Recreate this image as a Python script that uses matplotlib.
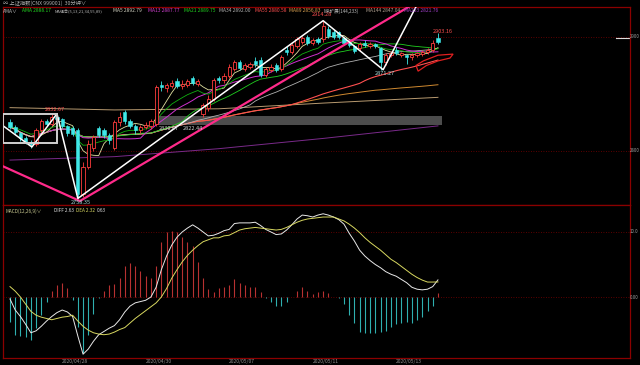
import numpy as np
import pandas as pd
import matplotlib
matplotlib.use("Agg")
import matplotlib.pyplot as plt
from matplotlib.patches import Rectangle, Polygon

plt.rcParams['font.family'] = ['Noto Sans CJK SC', 'DejaVu Sans']

# 上证指数 30分钟K线
opens = [2825, 2821, 2816, 2811, 2808, 2806, 2818, 2826, 2824, 2830,
         2828, 2822, 2820, 2818, 2762, 2786, 2803, 2820, 2818, 2814,
         2803, 2825, 2834, 2826, 2822, 2818, 2821, 2822, 2824, 2858,
         2855, 2857, 2861, 2857, 2858, 2864, 2859, 2832, 2838, 2846,
         2864, 2862, 2866, 2872, 2878, 2872, 2874, 2879, 2880, 2867,
         2871, 2875, 2872, 2889, 2887, 2892, 2896, 2900, 2895, 2898,
         2898, 2907, 2904, 2904, 2899, 2896, 2892, 2890, 2895, 2892,
         2894, 2890, 2878, 2884, 2889, 2884, 2884, 2882, 2884, 2885,
         2887, 2889, 2899]
highs = [2828, 2823, 2817, 2813, 2810, 2820, 2828, 2828, 2832, 2832.67,
         2829, 2823, 2822, 2820, 2790, 2810, 2814, 2822, 2820, 2816,
         2827, 2834, 2836, 2828, 2824, 2823, 2825, 2828, 2858, 2861,
         2860, 2862, 2864, 2862, 2863, 2866, 2863, 2842, 2849, 2864,
         2866, 2868, 2876, 2880, 2880, 2877, 2878, 2882, 2882, 2874,
         2876, 2877, 2884, 2892, 2895, 2900, 2901, 2902, 2899, 2900,
         2914.28, 2910, 2906, 2905, 2900, 2897, 2893, 2896, 2897, 2896,
         2895, 2891, 2886, 2888, 2891, 2887, 2885, 2886, 2887, 2889,
         2890, 2897, 2903.16]
lows = [2819, 2815, 2809, 2806, 2803, 2804, 2816, 2822, 2822, 2826,
        2820, 2813, 2813, 2758.35, 2760, 2784, 2800, 2812, 2811, 2806,
        2801, 2822, 2824, 2820, 2815, 2816, 2819, 2819, 2822, 2853,
        2852, 2855, 2855, 2854, 2856, 2858, 2857, 2830, 2835, 2844,
        2860, 2860, 2864, 2870, 2871, 2870, 2872, 2874, 2865, 2865,
        2869, 2869, 2870, 2884, 2885, 2890, 2894, 2893, 2893, 2894,
        2896, 2899, 2898, 2898, 2893, 2891, 2886, 2888, 2891, 2890,
        2890, 2871.27, 2875, 2882, 2884, 2882, 2876, 2880, 2882, 2883,
        2885, 2887, 2894]
closes = [2821, 2817, 2811, 2808, 2806, 2818, 2826, 2824, 2830, 2828,
          2822, 2816, 2815, 2762, 2786, 2806, 2812, 2814, 2814, 2810,
          2825, 2830, 2826, 2822, 2818, 2821, 2823, 2826, 2856, 2856,
          2858, 2860, 2857, 2859, 2861, 2860, 2861, 2840, 2846, 2862,
          2862, 2866, 2874, 2878, 2873, 2875, 2876, 2876, 2867, 2872,
          2874, 2871, 2882, 2887, 2893, 2898, 2899, 2895, 2897, 2896,
          2910, 2901, 2900, 2900, 2895, 2893, 2888, 2894, 2893, 2894,
          2892, 2878, 2884, 2886, 2886, 2886, 2882, 2884, 2886, 2887,
          2889, 2895, 2896]

# MACD(12,26,9)
dif = [-0.3, -2.0, -3.0, -4.2, -5.5, -5.2, -4.5, -3.7, -3.0, -2.4,
       -2.0, -2.3, -3.0, -6.0, -8.8, -8.0, -6.8, -5.8, -5.3, -4.8,
       -4.4, -3.5, -2.3, -1.4, -0.9, -0.7, -0.5, 0.0, 1.5, 4.2,
       6.3, 8.0, 9.2, 10.0, 10.6, 11.1, 10.6, 10.0, 9.4, 9.5,
       9.8, 10.2, 10.4, 11.3, 11.4, 11.4, 11.4, 11.5, 11.0, 10.4,
       10.0, 9.6, 9.7, 10.3, 11.1, 12.0, 12.6, 12.5, 12.3, 12.6,
       12.8, 12.6, 12.3, 11.9, 11.2, 9.8, 8.6, 7.2, 6.3, 5.6,
       5.0, 4.5, 3.9, 3.5, 3.2, 2.7, 2.2, 1.5, 1.2, 1.1,
       1.2, 1.6, 2.63]
dea = [1.6, 0.9, 0.0, -1.1, -2.2, -2.8, -3.1, -3.3, -3.5, -3.3,
       -3.1, -3.0, -2.8, -3.7, -4.5, -5.1, -5.5, -5.7, -5.8, -5.7,
       -5.4, -5.0, -4.7, -4.0, -3.3, -2.7, -2.1, -1.5, -0.9, 0.0,
       1.3, 2.9, 4.2, 5.4, 6.4, 7.2, 7.9, 8.5, 8.8, 9.1,
       9.1, 9.4, 9.5, 9.9, 10.3, 10.5, 10.6, 10.7, 10.6, 10.5,
       10.4, 10.3, 10.4, 10.7, 11.1, 11.5, 11.8, 12.0, 12.1, 12.2,
       12.3, 12.3, 12.3, 12.0, 11.7, 11.2, 10.6, 9.9, 9.1, 8.4,
       7.8, 7.2, 6.5, 5.8, 5.3, 4.7, 4.1, 3.5, 3.0, 2.6,
       2.3, 2.3, 2.32]

date_labels = ['2020/04/28', '2020/04/30', '2020/05/07', '2020/05/11', '2020/05/13']
date_pos = [12.5, 28.5, 44.5, 60.5, 76.5]

# 长周期均线
ma144_idx = [0, 20, 40, 60, 82]
ma144_val = [2838, 2836, 2837, 2842, 2847.04]
ma233_idx = [0, 20, 40, 60, 82]
ma233_val = [2792, 2795, 2802, 2811, 2822]

# 画线工具
zigzag_idx = [-1.3, 4.2, 9, 13, 60, 71.5, 78.2]
zigzag_val = [2822, 2803.5, 2832.67, 2758.35, 2914.28, 2871.27, 2930]
trend_idx = [-1.9, 13.4, 76.6]
trend_val = [2787.7, 2756.1, 2927]
box_idx = [-1.3, 9]
box_val = [2807, 2832.67]
band_idx = [27.8, 82.8]
band_val = [2822.44, 2830.67]
cloud_idx = [77.8, 79.2, 82.0, 84.9, 84.3, 82.0, 79.8, 78.2]
cloud_val = [2875, 2879, 2884, 2885, 2881.5, 2879, 2875, 2870]

RED = '#ff3c3c'
CYAN = '#3fe8e8'
GRID = '#7a0000'

n = len(closes)
x = np.arange(n)
c = pd.Series(closes, dtype=float)
ma5 = c.rolling(5, min_periods=1).mean()
ma13 = c.rolling(13, min_periods=1).mean()
ma21 = c.rolling(21, min_periods=1).mean()
ma34 = c.rolling(34, min_periods=1).mean()
ma55 = c.rolling(55, min_periods=1).mean()
ma89 = c.rolling(89, min_periods=1).mean()
ama = c.ewm(span=10, adjust=False).mean()

fig = plt.figure(figsize=(6.4, 3.65), dpi=100, facecolor='black')
ax = fig.add_axes([3/640, 1-205/365, 627/640, 198/365], facecolor='black')
ax2 = fig.add_axes([3/640, 1-358/365, 627/640, 153/365], facecolor='black')

xl = (-1.34, 118.8)
for a in (ax, ax2):
    a.set_xlim(*xl)
    a.set_xticks([])
    a.set_yticks([])
    for s in a.spines.values():
        s.set_color('#8b0000')
        s.set_linewidth(0.9)
ax.set_ylim(2752.6, 2926.3)
ax2.set_ylim(-9.38, 14.15)

# 网格
for v in (2900, 2800):
    ax.axhline(v, color=GRID, lw=0.6, ls=(0, (1, 2)), zorder=0)
for v in (10, 0):
    ax2.axhline(v, color=GRID, lw=0.6, ls=(0, (1, 2)), zorder=0)

# 区间带
ax.add_patch(Rectangle((band_idx[0], band_val[0]), band_idx[1]-band_idx[0], band_val[1]-band_val[0],
                       facecolor='#5a5a5a', edgecolor='none', alpha=0.85, zorder=1))

# 均线
ax.plot(ma144_idx, ma144_val, color='#b89a70', lw=0.7, zorder=2)
ax.plot(ma233_idx, ma233_val, color='#7a2a8a', lw=0.7, zorder=2)
ax.plot(x, ma89, color='#d08a30', lw=0.7, zorder=2)
ax.plot(x, ma55, color='#ff5050', lw=0.8, zorder=2)
ax.plot(x, ma34, color='#b0b0b0', lw=0.6, zorder=2)
ax.plot(x, ma21, color='#20d020', lw=0.6, zorder=2)
ax.plot(x, ma13, color='#d030d0', lw=0.7, zorder=2)
ax.plot(x, ma5, color='#e0e0a0', lw=0.6, zorder=2)
ax.plot(x, ama, color='#10b010', lw=0.6, zorder=2)

# K线
w = 0.62
for i in range(n):
    o, h, l, cl = opens[i], highs[i], lows[i], closes[i]
    if cl >= o:
        ax.vlines(i, l, h, color=RED, lw=0.6, zorder=3)
        ax.add_patch(Rectangle((i - w/2, o), w, max(cl - o, 0.3), facecolor='black',
                               edgecolor=RED, lw=0.6, zorder=4))
    else:
        ax.vlines(i, l, h, color=CYAN, lw=0.6, zorder=3)
        ax.add_patch(Rectangle((i - w/2, cl), w, o - cl, facecolor=CYAN,
                               edgecolor=CYAN, lw=0.4, zorder=4))

# 画线
ax.plot(trend_idx, trend_val, color='#ff2a8a', lw=1.6, zorder=5, solid_capstyle='round')
ax.plot(zigzag_idx, zigzag_val, color='white', lw=1.1, zorder=6)
ax.add_patch(Rectangle((box_idx[0], box_val[0]), box_idx[1]-box_idx[0], box_val[1]-box_val[0],
                       facecolor='none', edgecolor='#d0d0d0', lw=1.4, zorder=6))
ax.add_patch(Polygon(list(zip(cloud_idx, cloud_val)), closed=True, facecolor='none',
                     edgecolor='#e02020', lw=0.9, zorder=6))

# 价格标注
fs = 4.0
ax.text(59.8, 2919.5, '2914.28', color='#ff5050', fontsize=fs, ha='center', va='center', zorder=7)
ax.text(71.8, 2868.2, '2871.27', color='#a8d8d8', fontsize=fs, ha='center', va='center', zorder=7)
ax.text(8.6, 2836.3, '2832.67', color='#ff5050', fontsize=fs, ha='center', va='center', zorder=7)
ax.text(13.6, 2754.6, '2758.35', color='#a8d8d8', fontsize=fs, ha='center', va='center', zorder=7)
ax.text(83.0, 2904.4, '2903.16', color='#ff5050', fontsize=fs, ha='center', va='center', zorder=7)
ax.text(30.4, 2819.4, '2830.67', color='#d0d0d0', fontsize=fs, ha='center', va='center', zorder=7)
ax.text(35.0, 2819.4, '2822.44', color='#d0d0d0', fontsize=fs, ha='center', va='center', zorder=7)

# 右侧刻度
ax.plot([116.2, 118.8], [2899, 2899], color='#dddddd', lw=0.8, clip_on=False)
for v, t in ((2900, '2900'), (2800, '2800')):
    ax.text(1.0, v, t, transform=ax.get_yaxis_transform(), color='#a0a0a0',
            fontsize=3.1, va='center', ha='left', clip_on=False)
for v, t in ((10, '10.0'), (0, '0.00')):
    ax2.text(1.0, v, t, transform=ax2.get_yaxis_transform(), color='#a0a0a0',
             fontsize=3.1, va='center', ha='left', clip_on=False)

# MACD
hist = 2 * (np.array(dif) - np.array(dea))
cols = ['#d83a3a' if h >= 0 else '#38d0d0' for h in hist]
ax2.vlines(x, 0, hist, colors=cols, lw=0.8, alpha=0.85, zorder=2)
ax2.plot(x, dif, color='#e8e8e8', lw=0.7, zorder=3)
ax2.plot(x, dea, color='#d8d860', lw=0.7, zorder=3)

# 日期
for p, t in zip(date_pos, date_labels):
    ax2.text(p, -0.02, t, transform=ax2.get_xaxis_transform(), color='#909090',
             fontsize=3.6, ha='center', va='center', clip_on=False)

# 标题栏
def ftext(px, py, s, color, size=4.0):
    fig.text(px / 640, 1 - py / 365, s, color=color, fontsize=size, ha='left', va='center')

ftext(3, 3.5, '∞ 上证指数(CNX 999001)  30分钟∨', '#b0b0b0', 3.8)
legend_items = [
    (3, 'AMA∨', '#c0c0c0', 3.5), (22, 'AMA 2888.17', '#20d020', 3.5),
    (55, 'MA组合(5,13,21,34,55,89)', '#b0b0b0', 3.0), (113, 'MA5 2892.79', '#d0d0c0', 3.5),
    (148, 'MA13 2887.77', '#d040d0', 3.5), (184, 'MA21 2889.75', '#20d020', 3.5),
    (219, 'MA34 2892.00', '#b0b0b0', 3.5), (255, 'MA55 2880.58', '#ff5050', 3.5),
    (289, 'MA89 2856.83', '#d8a050', 3.5), (324, 'MA扩展(144,233)', '#c0c0c0', 3.3),
    (366, 'MA144 2847.04', '#b0a090', 3.5), (404, 'MA233 2821.76', '#a040c8', 3.5),
]
for px, s, col, sz in legend_items:
    ftext(px, 11, s, col, sz)

macd_items = [(5, 'MACD(12,26,9)∨', '#c8c890'), (54, 'DIFF 2.63', '#e0e0e0'),
              (76, 'DEA 2.32', '#d8d860'), (97, '0.63', '#e0e0e0')]
for px, s, col in macd_items:
    ftext(px, 211, s, col, 3.4)

fig.savefig('out.png', dpi=100, facecolor='black')
